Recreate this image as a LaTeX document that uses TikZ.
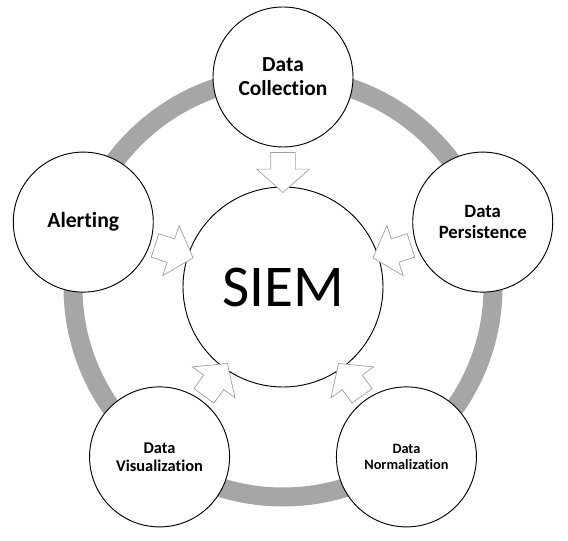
\documentclass[tikz,border=0pt]{standalone}
\usepackage{fontspec}
\setmainfont{Carlito}[Ligatures=NoCommon]
\usetikzlibrary{calc, positioning, shapes.arrows}
\definecolor{ringgray}{RGB}{166,166,166}
\definecolor{arrowgray}{RGB}{160,160,160}

\begin{document}
\begin{tikzpicture}[stage/.style={circle, draw, fill=white, line width=0.8pt, minimum size=4.2cm, inner sep=0pt, align=center},hub/.style={circle, draw, fill=white, line width=0.8pt, minimum size=6cm, inner sep=0pt, font=\fontsize{50.6}{60}\selectfont},flow/.style={single arrow, draw=arrowgray, fill=white, line width=0.6pt, minimum height=1.2cm, minimum width=1.56cm, single arrow head extend=0.42cm, single arrow tip angle=97, inner xsep=0.15cm, inner ysep=0.36cm}]
  \useasboundingbox (-8.49,-7.59) rectangle (8.55,8.61);

  \node[hub] (siem) at (0,0) {SIEM};
  \draw[ringgray, line width=0.57cm] (siem.center) circle (6.3cm);

  \node[stage, font=\bfseries\fontsize{18.3}{20.4}\selectfont] (coll) at (90:6.3) {Data\\Collection};
  \node[stage, font=\bfseries\fontsize{16}{18.5}\selectfont] (pers) at (18:6.3) {Data\\Persistence};
  \node[stage, font=\bfseries\fontsize{12.2}{13.2}\selectfont] (norm) at (-54:6.3) {Data\\Normalization};
  \node[stage, font=\bfseries\fontsize{14}{15.6}\selectfont] (visu) at (234:6.3) {Data\\Visualization};
  \node[stage, font=\bfseries\fontsize{18.5}{20}\selectfont] (alert) at (162:6.3) {Alerting};

  \node[flow, rotate=-90] (fcoll) at ($(coll)!2.7cm!(siem)$) {};
  \node[flow, rotate=198] (fpers) at ($(pers)!2.7cm!(siem)$) {};
  \node[flow, rotate=126] (fnorm) at ($(norm)!2.7cm!(siem)$) {};
  \node[flow, rotate=54] (fvisu) at ($(visu)!2.7cm!(siem)$) {};
  \node[flow, rotate=-18] (falert) at ($(alert)!2.7cm!(siem)$) {};
\end{tikzpicture}
\end{document}
